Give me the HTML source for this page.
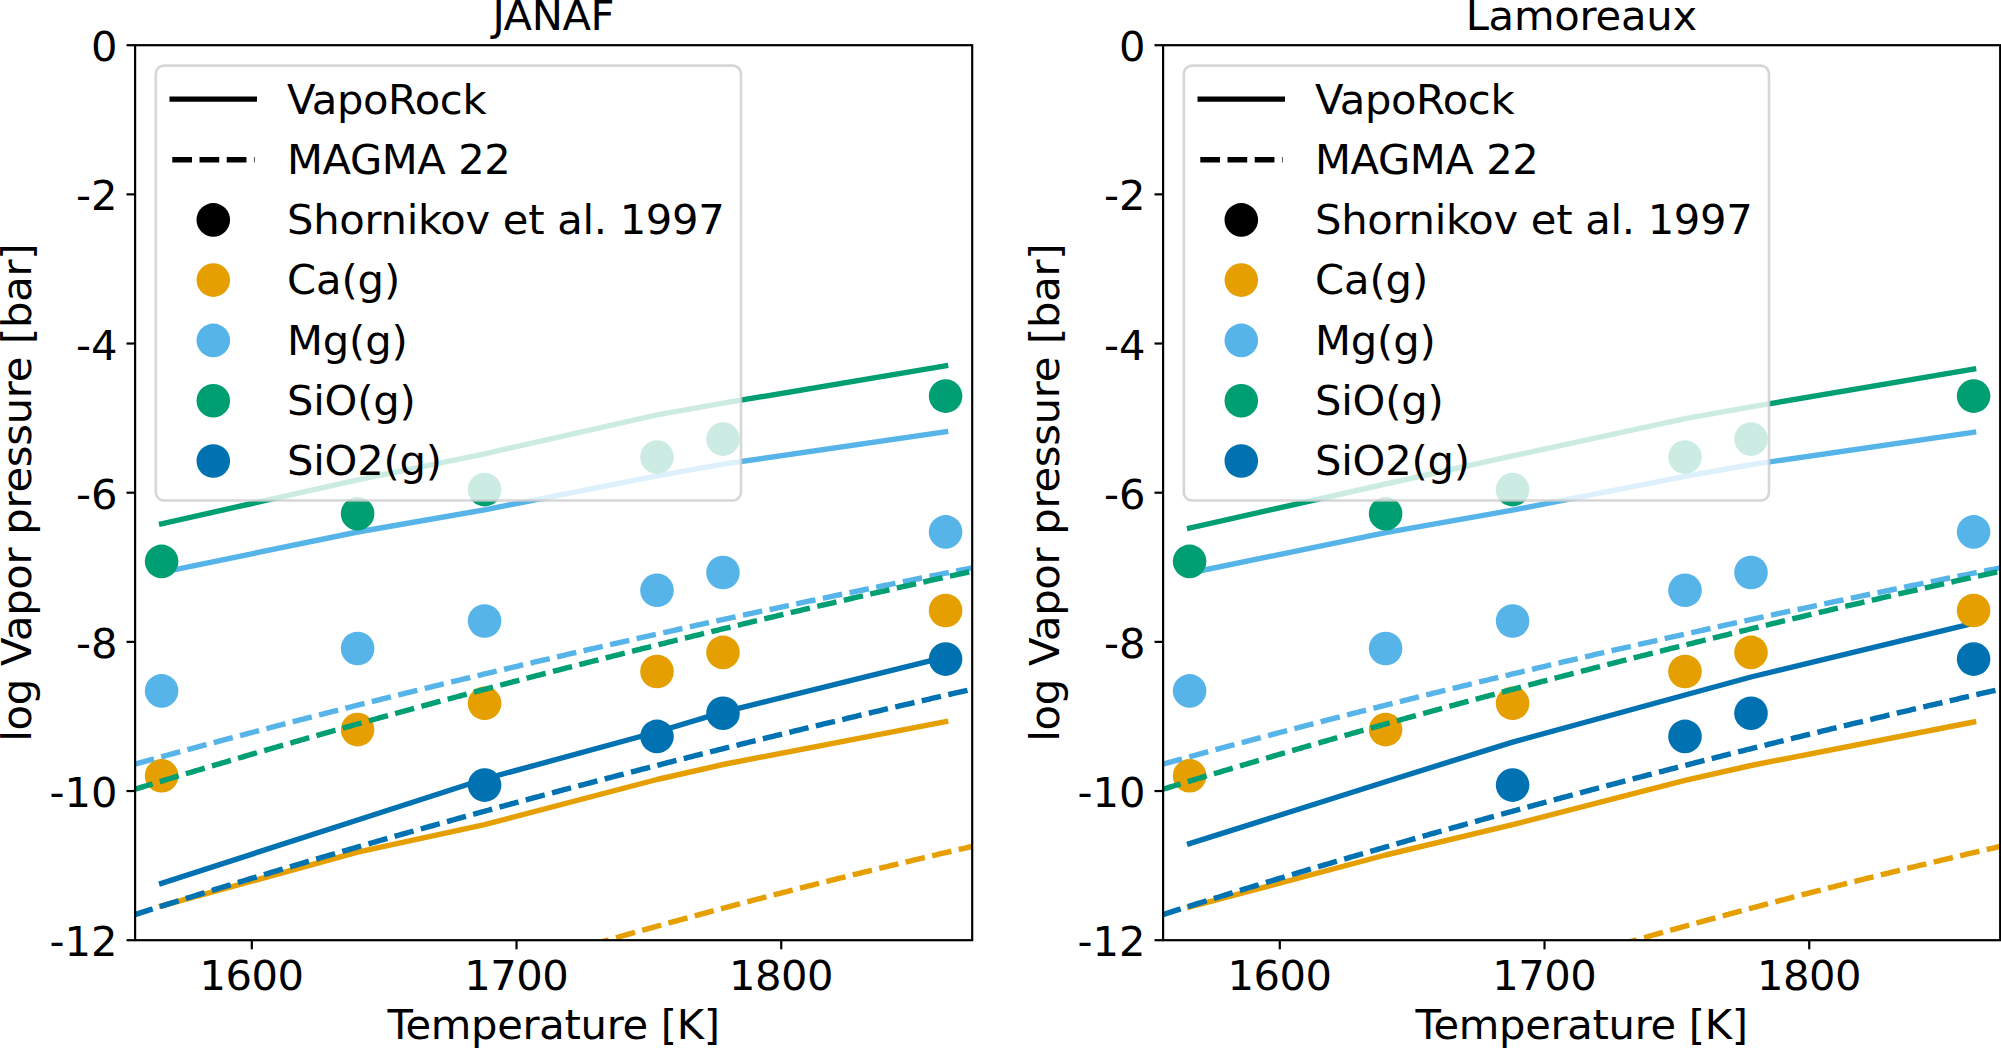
<!DOCTYPE html>
<html><head><meta charset="utf-8"><title>Vapor pressure</title>
<style>html,body{margin:0;padding:0;background:#fff}svg{display:block}text{font-family:"DejaVu Sans","Liberation Sans",sans-serif;font-size:41.67px;fill:#000}</style></head><body>
<svg width="2001" height="1048" viewBox="0 0 2001 1048">
<rect width="2001" height="1048" fill="#fff"/>
<defs>
<clipPath id="clip0"><rect x="135.1" y="45.2" width="837.1" height="895.0"/></clipPath>
<clipPath id="clip1"><rect x="1163.1" y="45.2" width="837.1" height="895.0"/></clipPath>
</defs>
<g clip-path="url(#clip0)">
<path d="M161.60,905.90 L357.60,852.20 L484.60,824.60 L657.00,779.50 L723.00,764.50 L945.60,721.70" fill="none" stroke="#E69F00" stroke-width="5.4" stroke-linecap="square" stroke-linejoin="round"/>
<path d="M161.60,572.40 L357.60,532.00 L484.60,509.80 L657.00,475.80 L723.00,464.20 L945.60,431.80" fill="none" stroke="#56B4E9" stroke-width="5.4" stroke-linecap="square" stroke-linejoin="round"/>
<path d="M161.60,523.80 L357.60,479.80 L484.60,453.80 L657.00,414.80 L723.00,403.20 L945.60,365.80" fill="none" stroke="#009E73" stroke-width="5.4" stroke-linecap="square" stroke-linejoin="round"/>
<path d="M161.60,883.30 L357.60,820.00 L484.60,779.00 L657.00,732.00 L723.00,712.20 L945.60,657.00" fill="none" stroke="#0072B2" stroke-width="5.4" stroke-linecap="square" stroke-linejoin="round"/>
<circle cx="161.60" cy="775.80" r="16.8" fill="#E69F00"/>
<circle cx="357.60" cy="729.60" r="16.8" fill="#E69F00"/>
<circle cx="484.60" cy="703.30" r="16.8" fill="#E69F00"/>
<circle cx="657.00" cy="671.50" r="16.8" fill="#E69F00"/>
<circle cx="723.00" cy="652.40" r="16.8" fill="#E69F00"/>
<circle cx="945.60" cy="610.50" r="16.8" fill="#E69F00"/>
<circle cx="161.60" cy="690.90" r="16.8" fill="#56B4E9"/>
<circle cx="357.60" cy="648.50" r="16.8" fill="#56B4E9"/>
<circle cx="484.60" cy="621.00" r="16.8" fill="#56B4E9"/>
<circle cx="657.00" cy="590.30" r="16.8" fill="#56B4E9"/>
<circle cx="723.00" cy="572.50" r="16.8" fill="#56B4E9"/>
<circle cx="945.60" cy="531.90" r="16.8" fill="#56B4E9"/>
<circle cx="161.60" cy="561.40" r="16.8" fill="#009E73"/>
<circle cx="357.60" cy="513.70" r="16.8" fill="#009E73"/>
<circle cx="484.60" cy="489.60" r="16.8" fill="#009E73"/>
<circle cx="657.00" cy="457.10" r="16.8" fill="#009E73"/>
<circle cx="723.00" cy="439.10" r="16.8" fill="#009E73"/>
<circle cx="945.60" cy="396.10" r="16.8" fill="#009E73"/>
<circle cx="484.60" cy="785.10" r="16.8" fill="#0072B2"/>
<circle cx="657.00" cy="736.40" r="16.8" fill="#0072B2"/>
<circle cx="723.00" cy="713.20" r="16.8" fill="#0072B2"/>
<circle cx="945.60" cy="659.10" r="16.8" fill="#0072B2"/>
<path d="M95.10,1113.21 L97.40,1112.29 L99.70,1111.38 L102.00,1110.47 L104.29,1109.56 L106.59,1108.65 L108.89,1107.74 L111.19,1106.84 L113.49,1105.93 L115.79,1105.03 L118.08,1104.13 L120.38,1103.23 L122.68,1102.33 L124.98,1101.43 L127.28,1100.53 L129.58,1099.64 L131.88,1098.75 L134.17,1097.85 L136.47,1096.96 L138.77,1096.07 L141.07,1095.19 L143.37,1094.30 L145.67,1093.42 L147.97,1092.53 L150.26,1091.65 L152.56,1090.77 L154.86,1089.89 L157.16,1089.01 L159.46,1088.14 L161.76,1087.26 L164.05,1086.39 L166.35,1085.51 L168.65,1084.64 L170.95,1083.77 L173.25,1082.90 L175.55,1082.04 L177.85,1081.17 L180.14,1080.31 L182.44,1079.44 L184.74,1078.58 L187.04,1077.72 L189.34,1076.86 L191.64,1076.00 L193.94,1075.15 L196.23,1074.29 L198.53,1073.44 L200.83,1072.59 L203.13,1071.74 L205.43,1070.89 L207.73,1070.04 L210.02,1069.19 L212.32,1068.34 L214.62,1067.50 L216.92,1066.66 L219.22,1065.81 L221.52,1064.97 L223.82,1064.13 L226.11,1063.30 L228.41,1062.46 L230.71,1061.62 L233.01,1060.79 L235.31,1059.96 L237.61,1059.12 L239.91,1058.29 L242.20,1057.46 L244.50,1056.64 L246.80,1055.81 L249.10,1054.98 L251.40,1054.16 L253.70,1053.34 L255.99,1052.52 L258.29,1051.69 L260.59,1050.88 L262.89,1050.06 L265.19,1049.24 L267.49,1048.43 L269.79,1047.61 L272.08,1046.80 L274.38,1045.99 L276.68,1045.18 L278.98,1044.37 L281.28,1043.56 L283.58,1042.75 L285.88,1041.95 L288.17,1041.14 L290.47,1040.34 L292.77,1039.54 L295.07,1038.74 L297.37,1037.94 L299.67,1037.14 L301.96,1036.34 L304.26,1035.54 L306.56,1034.75 L308.86,1033.96 L311.16,1033.16 L313.46,1032.37 L315.76,1031.58 L318.05,1030.79 L320.35,1030.01 L322.65,1029.22 L324.95,1028.43 L327.25,1027.65 L329.55,1026.87 L331.85,1026.08 L334.14,1025.30 L336.44,1024.52 L338.74,1023.75 L341.04,1022.97 L343.34,1022.19 L345.64,1021.42 L347.93,1020.64 L350.23,1019.87 L352.53,1019.10 L354.83,1018.33 L357.13,1017.56 L359.43,1016.79 L361.73,1016.03 L364.02,1015.26 L366.32,1014.50 L368.62,1013.73 L370.92,1012.97 L373.22,1012.21 L375.52,1011.45 L377.82,1010.69 L380.11,1009.93 L382.41,1009.18 L384.71,1008.42 L387.01,1007.67 L389.31,1006.91 L391.61,1006.16 L393.90,1005.41 L396.20,1004.66 L398.50,1003.91 L400.80,1003.16 L403.10,1002.42 L405.40,1001.67 L407.70,1000.93 L409.99,1000.18 L412.29,999.44 L414.59,998.70 L416.89,997.96 L419.19,997.22 L421.49,996.48 L423.78,995.74 L426.08,995.01 L428.38,994.27 L430.68,993.54 L432.98,992.81 L435.28,992.07 L437.58,991.34 L439.87,990.61 L442.17,989.89 L444.47,989.16 L446.77,988.43 L449.07,987.71 L451.37,986.98 L453.67,986.26 L455.96,985.54 L458.26,984.82 L460.56,984.10 L462.86,983.38 L465.16,982.66 L467.46,981.94 L469.75,981.23 L472.05,980.51 L474.35,979.80 L476.65,979.09 L478.95,978.37 L481.25,977.66 L483.55,976.95 L485.84,976.25 L488.14,975.54 L490.44,974.83 L492.74,974.13 L495.04,973.42 L497.34,972.72 L499.64,972.01 L501.93,971.31 L504.23,970.61 L506.53,969.91 L508.83,969.21 L511.13,968.52 L513.43,967.82 L515.72,967.12 L518.02,966.43 L520.32,965.74 L522.62,965.04 L524.92,964.35 L527.22,963.66 L529.52,962.97 L531.81,962.28 L534.11,961.60 L536.41,960.91 L538.71,960.22 L541.01,959.54 L543.31,958.85 L545.61,958.17 L547.90,957.49 L550.20,956.81 L552.50,956.13 L554.80,955.45 L557.10,954.77 L559.40,954.10 L561.69,953.42 L563.99,952.74 L566.29,952.07 L568.59,951.40 L570.89,950.72 L573.19,950.05 L575.49,949.38 L577.78,948.71 L580.08,948.04 L582.38,947.38 L584.68,946.71 L586.98,946.04 L589.28,945.38 L591.58,944.72 L593.87,944.05 L596.17,943.39 L598.47,942.73 L600.77,942.07 L603.07,941.41 L605.37,940.75 L607.66,940.10 L609.96,939.44 L612.26,938.78 L614.56,938.13 L616.86,937.48 L619.16,936.82 L621.46,936.17 L623.75,935.52 L626.05,934.87 L628.35,934.22 L630.65,933.57 L632.95,932.93 L635.25,932.28 L637.55,931.63 L639.84,930.99 L642.14,930.35 L644.44,929.70 L646.74,929.06 L649.04,928.42 L651.34,927.78 L653.63,927.14 L655.93,926.50 L658.23,925.86 L660.53,925.23 L662.83,924.59 L665.13,923.96 L667.43,923.32 L669.72,922.69 L672.02,922.06 L674.32,921.43 L676.62,920.80 L678.92,920.17 L681.22,919.54 L683.52,918.91 L685.81,918.28 L688.11,917.66 L690.41,917.03 L692.71,916.41 L695.01,915.78 L697.31,915.16 L699.60,914.54 L701.90,913.92 L704.20,913.30 L706.50,912.68 L708.80,912.06 L711.10,911.44 L713.40,910.82 L715.69,910.21 L717.99,909.59 L720.29,908.98 L722.59,908.37 L724.89,907.75 L727.19,907.14 L729.48,906.53 L731.78,905.92 L734.08,905.31 L736.38,904.70 L738.68,904.09 L740.98,903.49 L743.28,902.88 L745.57,902.28 L747.87,901.67 L750.17,901.07 L752.47,900.47 L754.77,899.86 L757.07,899.26 L759.37,898.66 L761.66,898.06 L763.96,897.46 L766.26,896.87 L768.56,896.27 L770.86,895.67 L773.16,895.08 L775.45,894.48 L777.75,893.89 L780.05,893.30 L782.35,892.70 L784.65,892.11 L786.95,891.52 L789.25,890.93 L791.54,890.34 L793.84,889.75 L796.14,889.17 L798.44,888.58 L800.74,887.99 L803.04,887.41 L805.34,886.82 L807.63,886.24 L809.93,885.66 L812.23,885.08 L814.53,884.50 L816.83,883.91 L819.13,883.33 L821.42,882.76 L823.72,882.18 L826.02,881.60 L828.32,881.02 L830.62,880.45 L832.92,879.87 L835.22,879.30 L837.51,878.72 L839.81,878.15 L842.11,877.58 L844.41,877.01 L846.71,876.44 L849.01,875.87 L851.31,875.30 L853.60,874.73 L855.90,874.16 L858.20,873.60 L860.50,873.03 L862.80,872.47 L865.10,871.90 L867.39,871.34 L869.69,870.77 L871.99,870.21 L874.29,869.65 L876.59,869.09 L878.89,868.53 L881.19,867.97 L883.48,867.41 L885.78,866.85 L888.08,866.30 L890.38,865.74 L892.68,865.18 L894.98,864.63 L897.28,864.08 L899.57,863.52 L901.87,862.97 L904.17,862.42 L906.47,861.87 L908.77,861.32 L911.07,860.77 L913.36,860.22 L915.66,859.67 L917.96,859.12 L920.26,858.57 L922.56,858.03 L924.86,857.48 L927.16,856.94 L929.45,856.39 L931.75,855.85 L934.05,855.31 L936.35,854.76 L938.65,854.22 L940.95,853.68 L943.25,853.14 L945.54,852.60 L947.84,852.06 L950.14,851.53 L952.44,850.99 L954.74,850.45 L957.04,849.92 L959.33,849.38 L961.63,848.85 L963.93,848.31 L966.23,847.78 L968.53,847.25 L970.83,846.72 L973.13,846.19 L975.42,845.66 L977.72,845.13 L980.02,844.60 L982.32,844.07 L984.62,843.54 L986.92,843.02 L989.22,842.49 L991.51,841.96 L993.81,841.44 L996.11,840.91 L998.41,840.39 L1000.71,839.87 L1003.01,839.35 L1005.30,838.82 L1007.60,838.30 L1009.90,837.78 L1012.20,837.26" fill="none" stroke="#E69F00" stroke-width="5.4" stroke-dasharray="19.7 7.52" stroke-dashoffset="21.70"/>
<path d="M95.10,775.31 L97.40,774.66 L99.70,774.01 L102.00,773.36 L104.29,772.72 L106.59,772.07 L108.89,771.42 L111.19,770.78 L113.49,770.13 L115.79,769.49 L118.08,768.84 L120.38,768.20 L122.68,767.56 L124.98,766.92 L127.28,766.28 L129.58,765.64 L131.88,765.00 L134.17,764.36 L136.47,763.72 L138.77,763.08 L141.07,762.44 L143.37,761.81 L145.67,761.17 L147.97,760.54 L150.26,759.90 L152.56,759.27 L154.86,758.63 L157.16,758.00 L159.46,757.37 L161.76,756.74 L164.05,756.11 L166.35,755.48 L168.65,754.85 L170.95,754.22 L173.25,753.59 L175.55,752.96 L177.85,752.34 L180.14,751.71 L182.44,751.08 L184.74,750.46 L187.04,749.83 L189.34,749.21 L191.64,748.59 L193.94,747.96 L196.23,747.34 L198.53,746.72 L200.83,746.10 L203.13,745.48 L205.43,744.86 L207.73,744.24 L210.02,743.62 L212.32,743.01 L214.62,742.39 L216.92,741.77 L219.22,741.16 L221.52,740.54 L223.82,739.93 L226.11,739.31 L228.41,738.70 L230.71,738.09 L233.01,737.48 L235.31,736.86 L237.61,736.25 L239.91,735.64 L242.20,735.03 L244.50,734.42 L246.80,733.82 L249.10,733.21 L251.40,732.60 L253.70,731.99 L255.99,731.39 L258.29,730.78 L260.59,730.18 L262.89,729.57 L265.19,728.97 L267.49,728.37 L269.79,727.76 L272.08,727.16 L274.38,726.56 L276.68,725.96 L278.98,725.36 L281.28,724.76 L283.58,724.16 L285.88,723.56 L288.17,722.97 L290.47,722.37 L292.77,721.77 L295.07,721.18 L297.37,720.58 L299.67,719.99 L301.96,719.39 L304.26,718.80 L306.56,718.21 L308.86,717.61 L311.16,717.02 L313.46,716.43 L315.76,715.84 L318.05,715.25 L320.35,714.66 L322.65,714.07 L324.95,713.48 L327.25,712.89 L329.55,712.31 L331.85,711.72 L334.14,711.13 L336.44,710.55 L338.74,709.96 L341.04,709.38 L343.34,708.80 L345.64,708.21 L347.93,707.63 L350.23,707.05 L352.53,706.47 L354.83,705.89 L357.13,705.30 L359.43,704.72 L361.73,704.15 L364.02,703.57 L366.32,702.99 L368.62,702.41 L370.92,701.83 L373.22,701.26 L375.52,700.68 L377.82,700.11 L380.11,699.53 L382.41,698.96 L384.71,698.38 L387.01,697.81 L389.31,697.24 L391.61,696.67 L393.90,696.09 L396.20,695.52 L398.50,694.95 L400.80,694.38 L403.10,693.81 L405.40,693.24 L407.70,692.68 L409.99,692.11 L412.29,691.54 L414.59,690.97 L416.89,690.41 L419.19,689.84 L421.49,689.28 L423.78,688.71 L426.08,688.15 L428.38,687.59 L430.68,687.02 L432.98,686.46 L435.28,685.90 L437.58,685.34 L439.87,684.78 L442.17,684.22 L444.47,683.66 L446.77,683.10 L449.07,682.54 L451.37,681.98 L453.67,681.42 L455.96,680.87 L458.26,680.31 L460.56,679.75 L462.86,679.20 L465.16,678.64 L467.46,678.09 L469.75,677.54 L472.05,676.98 L474.35,676.43 L476.65,675.88 L478.95,675.33 L481.25,674.78 L483.55,674.22 L485.84,673.67 L488.14,673.12 L490.44,672.58 L492.74,672.03 L495.04,671.48 L497.34,670.93 L499.64,670.38 L501.93,669.84 L504.23,669.29 L506.53,668.75 L508.83,668.20 L511.13,667.66 L513.43,667.11 L515.72,666.57 L518.02,666.03 L520.32,665.48 L522.62,664.94 L524.92,664.40 L527.22,663.86 L529.52,663.32 L531.81,662.78 L534.11,662.24 L536.41,661.70 L538.71,661.16 L541.01,660.63 L543.31,660.09 L545.61,659.55 L547.90,659.01 L550.20,658.48 L552.50,657.94 L554.80,657.41 L557.10,656.87 L559.40,656.34 L561.69,655.81 L563.99,655.27 L566.29,654.74 L568.59,654.21 L570.89,653.68 L573.19,653.15 L575.49,652.62 L577.78,652.09 L580.08,651.56 L582.38,651.03 L584.68,650.50 L586.98,649.97 L589.28,649.44 L591.58,648.92 L593.87,648.39 L596.17,647.87 L598.47,647.34 L600.77,646.81 L603.07,646.29 L605.37,645.77 L607.66,645.24 L609.96,644.72 L612.26,644.20 L614.56,643.67 L616.86,643.15 L619.16,642.63 L621.46,642.11 L623.75,641.59 L626.05,641.07 L628.35,640.55 L630.65,640.03 L632.95,639.51 L635.25,639.00 L637.55,638.48 L639.84,637.96 L642.14,637.45 L644.44,636.93 L646.74,636.41 L649.04,635.90 L651.34,635.39 L653.63,634.87 L655.93,634.36 L658.23,633.84 L660.53,633.33 L662.83,632.82 L665.13,632.31 L667.43,631.80 L669.72,631.29 L672.02,630.78 L674.32,630.27 L676.62,629.76 L678.92,629.25 L681.22,628.74 L683.52,628.23 L685.81,627.72 L688.11,627.22 L690.41,626.71 L692.71,626.20 L695.01,625.70 L697.31,625.19 L699.60,624.69 L701.90,624.18 L704.20,623.68 L706.50,623.18 L708.80,622.67 L711.10,622.17 L713.40,621.67 L715.69,621.17 L717.99,620.67 L720.29,620.17 L722.59,619.66 L724.89,619.17 L727.19,618.67 L729.48,618.17 L731.78,617.67 L734.08,617.17 L736.38,616.67 L738.68,616.18 L740.98,615.68 L743.28,615.18 L745.57,614.69 L747.87,614.19 L750.17,613.70 L752.47,613.20 L754.77,612.71 L757.07,612.22 L759.37,611.72 L761.66,611.23 L763.96,610.74 L766.26,610.25 L768.56,609.75 L770.86,609.26 L773.16,608.77 L775.45,608.28 L777.75,607.79 L780.05,607.30 L782.35,606.82 L784.65,606.33 L786.95,605.84 L789.25,605.35 L791.54,604.86 L793.84,604.38 L796.14,603.89 L798.44,603.41 L800.74,602.92 L803.04,602.44 L805.34,601.95 L807.63,601.47 L809.93,600.98 L812.23,600.50 L814.53,600.02 L816.83,599.54 L819.13,599.05 L821.42,598.57 L823.72,598.09 L826.02,597.61 L828.32,597.13 L830.62,596.65 L832.92,596.17 L835.22,595.69 L837.51,595.22 L839.81,594.74 L842.11,594.26 L844.41,593.78 L846.71,593.31 L849.01,592.83 L851.31,592.35 L853.60,591.88 L855.90,591.40 L858.20,590.93 L860.50,590.45 L862.80,589.98 L865.10,589.51 L867.39,589.03 L869.69,588.56 L871.99,588.09 L874.29,587.62 L876.59,587.15 L878.89,586.68 L881.19,586.20 L883.48,585.73 L885.78,585.27 L888.08,584.80 L890.38,584.33 L892.68,583.86 L894.98,583.39 L897.28,582.92 L899.57,582.46 L901.87,581.99 L904.17,581.52 L906.47,581.06 L908.77,580.59 L911.07,580.13 L913.36,579.66 L915.66,579.20 L917.96,578.73 L920.26,578.27 L922.56,577.81 L924.86,577.34 L927.16,576.88 L929.45,576.42 L931.75,575.96 L934.05,575.50 L936.35,575.04 L938.65,574.57 L940.95,574.12 L943.25,573.66 L945.54,573.20 L947.84,572.74 L950.14,572.28 L952.44,571.82 L954.74,571.36 L957.04,570.91 L959.33,570.45 L961.63,569.99 L963.93,569.54 L966.23,569.08 L968.53,568.63 L970.83,568.17 L973.13,567.72 L975.42,567.26 L977.72,566.81 L980.02,566.36 L982.32,565.90 L984.62,565.45 L986.92,565.00 L989.22,564.55 L991.51,564.10 L993.81,563.64 L996.11,563.19 L998.41,562.74 L1000.71,562.29 L1003.01,561.84 L1005.30,561.40 L1007.60,560.95 L1009.90,560.50 L1012.20,560.05" fill="none" stroke="#56B4E9" stroke-width="5.4" stroke-dasharray="19.7 7.52" stroke-dashoffset="13.04"/>
<path d="M95.10,801.59 L97.40,800.87 L99.70,800.15 L102.00,799.44 L104.29,798.72 L106.59,798.01 L108.89,797.29 L111.19,796.58 L113.49,795.87 L115.79,795.15 L118.08,794.44 L120.38,793.73 L122.68,793.02 L124.98,792.31 L127.28,791.61 L129.58,790.90 L131.88,790.19 L134.17,789.48 L136.47,788.78 L138.77,788.07 L141.07,787.37 L143.37,786.67 L145.67,785.96 L147.97,785.26 L150.26,784.56 L152.56,783.86 L154.86,783.16 L157.16,782.46 L159.46,781.76 L161.76,781.06 L164.05,780.37 L166.35,779.67 L168.65,778.97 L170.95,778.28 L173.25,777.58 L175.55,776.89 L177.85,776.20 L180.14,775.50 L182.44,774.81 L184.74,774.12 L187.04,773.43 L189.34,772.74 L191.64,772.05 L193.94,771.36 L196.23,770.67 L198.53,769.99 L200.83,769.30 L203.13,768.61 L205.43,767.93 L207.73,767.24 L210.02,766.56 L212.32,765.88 L214.62,765.19 L216.92,764.51 L219.22,763.83 L221.52,763.15 L223.82,762.47 L226.11,761.79 L228.41,761.11 L230.71,760.43 L233.01,759.76 L235.31,759.08 L237.61,758.40 L239.91,757.73 L242.20,757.05 L244.50,756.38 L246.80,755.71 L249.10,755.03 L251.40,754.36 L253.70,753.69 L255.99,753.02 L258.29,752.35 L260.59,751.68 L262.89,751.01 L265.19,750.34 L267.49,749.67 L269.79,749.01 L272.08,748.34 L274.38,747.67 L276.68,747.01 L278.98,746.34 L281.28,745.68 L283.58,745.02 L285.88,744.35 L288.17,743.69 L290.47,743.03 L292.77,742.37 L295.07,741.71 L297.37,741.05 L299.67,740.39 L301.96,739.73 L304.26,739.07 L306.56,738.42 L308.86,737.76 L311.16,737.11 L313.46,736.45 L315.76,735.80 L318.05,735.14 L320.35,734.49 L322.65,733.84 L324.95,733.18 L327.25,732.53 L329.55,731.88 L331.85,731.23 L334.14,730.58 L336.44,729.93 L338.74,729.28 L341.04,728.64 L343.34,727.99 L345.64,727.34 L347.93,726.70 L350.23,726.05 L352.53,725.41 L354.83,724.76 L357.13,724.12 L359.43,723.48 L361.73,722.83 L364.02,722.19 L366.32,721.55 L368.62,720.91 L370.92,720.27 L373.22,719.63 L375.52,718.99 L377.82,718.35 L380.11,717.72 L382.41,717.08 L384.71,716.44 L387.01,715.81 L389.31,715.17 L391.61,714.54 L393.90,713.90 L396.20,713.27 L398.50,712.64 L400.80,712.00 L403.10,711.37 L405.40,710.74 L407.70,710.11 L409.99,709.48 L412.29,708.85 L414.59,708.22 L416.89,707.60 L419.19,706.97 L421.49,706.34 L423.78,705.71 L426.08,705.09 L428.38,704.46 L430.68,703.84 L432.98,703.21 L435.28,702.59 L437.58,701.97 L439.87,701.35 L442.17,700.72 L444.47,700.10 L446.77,699.48 L449.07,698.86 L451.37,698.24 L453.67,697.62 L455.96,697.01 L458.26,696.39 L460.56,695.77 L462.86,695.15 L465.16,694.54 L467.46,693.92 L469.75,693.31 L472.05,692.69 L474.35,692.08 L476.65,691.47 L478.95,690.85 L481.25,690.24 L483.55,689.63 L485.84,689.02 L488.14,688.41 L490.44,687.80 L492.74,687.19 L495.04,686.58 L497.34,685.97 L499.64,685.36 L501.93,684.76 L504.23,684.15 L506.53,683.54 L508.83,682.94 L511.13,682.33 L513.43,681.73 L515.72,681.13 L518.02,680.52 L520.32,679.92 L522.62,679.32 L524.92,678.72 L527.22,678.11 L529.52,677.51 L531.81,676.91 L534.11,676.31 L536.41,675.72 L538.71,675.12 L541.01,674.52 L543.31,673.92 L545.61,673.33 L547.90,672.73 L550.20,672.13 L552.50,671.54 L554.80,670.94 L557.10,670.35 L559.40,669.76 L561.69,669.16 L563.99,668.57 L566.29,667.98 L568.59,667.39 L570.89,666.80 L573.19,666.21 L575.49,665.62 L577.78,665.03 L580.08,664.44 L582.38,663.85 L584.68,663.26 L586.98,662.68 L589.28,662.09 L591.58,661.50 L593.87,660.92 L596.17,660.33 L598.47,659.75 L600.77,659.16 L603.07,658.58 L605.37,658.00 L607.66,657.41 L609.96,656.83 L612.26,656.25 L614.56,655.67 L616.86,655.09 L619.16,654.51 L621.46,653.93 L623.75,653.35 L626.05,652.77 L628.35,652.20 L630.65,651.62 L632.95,651.04 L635.25,650.47 L637.55,649.89 L639.84,649.31 L642.14,648.74 L644.44,648.17 L646.74,647.59 L649.04,647.02 L651.34,646.45 L653.63,645.87 L655.93,645.30 L658.23,644.73 L660.53,644.16 L662.83,643.59 L665.13,643.02 L667.43,642.45 L669.72,641.88 L672.02,641.31 L674.32,640.75 L676.62,640.18 L678.92,639.61 L681.22,639.05 L683.52,638.48 L685.81,637.92 L688.11,637.35 L690.41,636.79 L692.71,636.22 L695.01,635.66 L697.31,635.10 L699.60,634.54 L701.90,633.97 L704.20,633.41 L706.50,632.85 L708.80,632.29 L711.10,631.73 L713.40,631.17 L715.69,630.62 L717.99,630.06 L720.29,629.50 L722.59,628.94 L724.89,628.39 L727.19,627.83 L729.48,627.27 L731.78,626.72 L734.08,626.16 L736.38,625.61 L738.68,625.06 L740.98,624.50 L743.28,623.95 L745.57,623.40 L747.87,622.84 L750.17,622.29 L752.47,621.74 L754.77,621.19 L757.07,620.64 L759.37,620.09 L761.66,619.54 L763.96,618.99 L766.26,618.45 L768.56,617.90 L770.86,617.35 L773.16,616.81 L775.45,616.26 L777.75,615.71 L780.05,615.17 L782.35,614.62 L784.65,614.08 L786.95,613.54 L789.25,612.99 L791.54,612.45 L793.84,611.91 L796.14,611.36 L798.44,610.82 L800.74,610.28 L803.04,609.74 L805.34,609.20 L807.63,608.66 L809.93,608.12 L812.23,607.58 L814.53,607.05 L816.83,606.51 L819.13,605.97 L821.42,605.43 L823.72,604.90 L826.02,604.36 L828.32,603.83 L830.62,603.29 L832.92,602.76 L835.22,602.22 L837.51,601.69 L839.81,601.16 L842.11,600.62 L844.41,600.09 L846.71,599.56 L849.01,599.03 L851.31,598.50 L853.60,597.97 L855.90,597.44 L858.20,596.91 L860.50,596.38 L862.80,595.85 L865.10,595.32 L867.39,594.79 L869.69,594.27 L871.99,593.74 L874.29,593.21 L876.59,592.69 L878.89,592.16 L881.19,591.64 L883.48,591.11 L885.78,590.59 L888.08,590.06 L890.38,589.54 L892.68,589.02 L894.98,588.50 L897.28,587.97 L899.57,587.45 L901.87,586.93 L904.17,586.41 L906.47,585.89 L908.77,585.37 L911.07,584.85 L913.36,584.33 L915.66,583.81 L917.96,583.30 L920.26,582.78 L922.56,582.26 L924.86,581.75 L927.16,581.23 L929.45,580.71 L931.75,580.20 L934.05,579.68 L936.35,579.17 L938.65,578.65 L940.95,578.14 L943.25,577.63 L945.54,577.12 L947.84,576.60 L950.14,576.09 L952.44,575.58 L954.74,575.07 L957.04,574.56 L959.33,574.05 L961.63,573.54 L963.93,573.03 L966.23,572.52 L968.53,572.01 L970.83,571.50 L973.13,571.00 L975.42,570.49 L977.72,569.98 L980.02,569.48 L982.32,568.97 L984.62,568.46 L986.92,567.96 L989.22,567.45 L991.51,566.95 L993.81,566.45 L996.11,565.94 L998.41,565.44 L1000.71,564.94 L1003.01,564.44 L1005.30,563.93 L1007.60,563.43 L1009.90,562.93 L1012.20,562.43" fill="none" stroke="#009E73" stroke-width="5.4" stroke-dasharray="19.7 7.52" stroke-dashoffset="13.94"/>
<path d="M95.10,927.33 L97.40,926.58 L99.70,925.84 L102.00,925.10 L104.29,924.36 L106.59,923.62 L108.89,922.88 L111.19,922.14 L113.49,921.40 L115.79,920.67 L118.08,919.93 L120.38,919.19 L122.68,918.46 L124.98,917.72 L127.28,916.99 L129.58,916.26 L131.88,915.53 L134.17,914.79 L136.47,914.06 L138.77,913.33 L141.07,912.60 L143.37,911.88 L145.67,911.15 L147.97,910.42 L150.26,909.70 L152.56,908.97 L154.86,908.24 L157.16,907.52 L159.46,906.80 L161.76,906.07 L164.05,905.35 L166.35,904.63 L168.65,903.91 L170.95,903.19 L173.25,902.47 L175.55,901.75 L177.85,901.04 L180.14,900.32 L182.44,899.60 L184.74,898.89 L187.04,898.17 L189.34,897.46 L191.64,896.74 L193.94,896.03 L196.23,895.32 L198.53,894.61 L200.83,893.90 L203.13,893.19 L205.43,892.48 L207.73,891.77 L210.02,891.06 L212.32,890.35 L214.62,889.65 L216.92,888.94 L219.22,888.24 L221.52,887.53 L223.82,886.83 L226.11,886.12 L228.41,885.42 L230.71,884.72 L233.01,884.02 L235.31,883.32 L237.61,882.62 L239.91,881.92 L242.20,881.22 L244.50,880.52 L246.80,879.83 L249.10,879.13 L251.40,878.44 L253.70,877.74 L255.99,877.05 L258.29,876.35 L260.59,875.66 L262.89,874.97 L265.19,874.28 L267.49,873.58 L269.79,872.89 L272.08,872.20 L274.38,871.52 L276.68,870.83 L278.98,870.14 L281.28,869.45 L283.58,868.77 L285.88,868.08 L288.17,867.40 L290.47,866.71 L292.77,866.03 L295.07,865.34 L297.37,864.66 L299.67,863.98 L301.96,863.30 L304.26,862.62 L306.56,861.94 L308.86,861.26 L311.16,860.58 L313.46,859.90 L315.76,859.23 L318.05,858.55 L320.35,857.87 L322.65,857.20 L324.95,856.52 L327.25,855.85 L329.55,855.18 L331.85,854.51 L334.14,853.83 L336.44,853.16 L338.74,852.49 L341.04,851.82 L343.34,851.15 L345.64,850.48 L347.93,849.81 L350.23,849.15 L352.53,848.48 L354.83,847.81 L357.13,847.15 L359.43,846.48 L361.73,845.82 L364.02,845.16 L366.32,844.49 L368.62,843.83 L370.92,843.17 L373.22,842.51 L375.52,841.85 L377.82,841.19 L380.11,840.53 L382.41,839.87 L384.71,839.21 L387.01,838.55 L389.31,837.90 L391.61,837.24 L393.90,836.58 L396.20,835.93 L398.50,835.27 L400.80,834.62 L403.10,833.97 L405.40,833.31 L407.70,832.66 L409.99,832.01 L412.29,831.36 L414.59,830.71 L416.89,830.06 L419.19,829.41 L421.49,828.76 L423.78,828.12 L426.08,827.47 L428.38,826.82 L430.68,826.18 L432.98,825.53 L435.28,824.89 L437.58,824.24 L439.87,823.60 L442.17,822.96 L444.47,822.31 L446.77,821.67 L449.07,821.03 L451.37,820.39 L453.67,819.75 L455.96,819.11 L458.26,818.47 L460.56,817.84 L462.86,817.20 L465.16,816.56 L467.46,815.93 L469.75,815.29 L472.05,814.65 L474.35,814.02 L476.65,813.39 L478.95,812.75 L481.25,812.12 L483.55,811.49 L485.84,810.86 L488.14,810.23 L490.44,809.59 L492.74,808.96 L495.04,808.34 L497.34,807.71 L499.64,807.08 L501.93,806.45 L504.23,805.82 L506.53,805.20 L508.83,804.57 L511.13,803.95 L513.43,803.32 L515.72,802.70 L518.02,802.07 L520.32,801.45 L522.62,800.83 L524.92,800.21 L527.22,799.59 L529.52,798.97 L531.81,798.35 L534.11,797.73 L536.41,797.11 L538.71,796.49 L541.01,795.87 L543.31,795.25 L545.61,794.64 L547.90,794.02 L550.20,793.41 L552.50,792.79 L554.80,792.18 L557.10,791.56 L559.40,790.95 L561.69,790.34 L563.99,789.72 L566.29,789.11 L568.59,788.50 L570.89,787.89 L573.19,787.28 L575.49,786.67 L577.78,786.06 L580.08,785.46 L582.38,784.85 L584.68,784.24 L586.98,783.63 L589.28,783.03 L591.58,782.42 L593.87,781.82 L596.17,781.21 L598.47,780.61 L600.77,780.01 L603.07,779.40 L605.37,778.80 L607.66,778.20 L609.96,777.60 L612.26,777.00 L614.56,776.40 L616.86,775.80 L619.16,775.20 L621.46,774.60 L623.75,774.00 L626.05,773.40 L628.35,772.81 L630.65,772.21 L632.95,771.62 L635.25,771.02 L637.55,770.43 L639.84,769.83 L642.14,769.24 L644.44,768.65 L646.74,768.05 L649.04,767.46 L651.34,766.87 L653.63,766.28 L655.93,765.69 L658.23,765.10 L660.53,764.51 L662.83,763.92 L665.13,763.33 L667.43,762.74 L669.72,762.16 L672.02,761.57 L674.32,760.98 L676.62,760.40 L678.92,759.81 L681.22,759.23 L683.52,758.64 L685.81,758.06 L688.11,757.48 L690.41,756.89 L692.71,756.31 L695.01,755.73 L697.31,755.15 L699.60,754.57 L701.90,753.99 L704.20,753.41 L706.50,752.83 L708.80,752.25 L711.10,751.67 L713.40,751.10 L715.69,750.52 L717.99,749.94 L720.29,749.37 L722.59,748.79 L724.89,748.22 L727.19,747.64 L729.48,747.07 L731.78,746.50 L734.08,745.92 L736.38,745.35 L738.68,744.78 L740.98,744.21 L743.28,743.64 L745.57,743.07 L747.87,742.50 L750.17,741.93 L752.47,741.36 L754.77,740.79 L757.07,740.22 L759.37,739.66 L761.66,739.09 L763.96,738.52 L766.26,737.96 L768.56,737.39 L770.86,736.83 L773.16,736.26 L775.45,735.70 L777.75,735.13 L780.05,734.57 L782.35,734.01 L784.65,733.45 L786.95,732.89 L789.25,732.33 L791.54,731.76 L793.84,731.20 L796.14,730.65 L798.44,730.09 L800.74,729.53 L803.04,728.97 L805.34,728.41 L807.63,727.86 L809.93,727.30 L812.23,726.74 L814.53,726.19 L816.83,725.63 L819.13,725.08 L821.42,724.52 L823.72,723.97 L826.02,723.42 L828.32,722.86 L830.62,722.31 L832.92,721.76 L835.22,721.21 L837.51,720.66 L839.81,720.11 L842.11,719.56 L844.41,719.01 L846.71,718.46 L849.01,717.91 L851.31,717.36 L853.60,716.82 L855.90,716.27 L858.20,715.72 L860.50,715.18 L862.80,714.63 L865.10,714.09 L867.39,713.54 L869.69,713.00 L871.99,712.45 L874.29,711.91 L876.59,711.37 L878.89,710.83 L881.19,710.28 L883.48,709.74 L885.78,709.20 L888.08,708.66 L890.38,708.12 L892.68,707.58 L894.98,707.04 L897.28,706.51 L899.57,705.97 L901.87,705.43 L904.17,704.89 L906.47,704.36 L908.77,703.82 L911.07,703.28 L913.36,702.75 L915.66,702.21 L917.96,701.68 L920.26,701.15 L922.56,700.61 L924.86,700.08 L927.16,699.55 L929.45,699.01 L931.75,698.48 L934.05,697.95 L936.35,697.42 L938.65,696.89 L940.95,696.36 L943.25,695.83 L945.54,695.30 L947.84,694.77 L950.14,694.25 L952.44,693.72 L954.74,693.19 L957.04,692.66 L959.33,692.14 L961.63,691.61 L963.93,691.09 L966.23,690.56 L968.53,690.04 L970.83,689.51 L973.13,688.99 L975.42,688.47 L977.72,687.94 L980.02,687.42 L982.32,686.90 L984.62,686.38 L986.92,685.86 L989.22,685.34 L991.51,684.82 L993.81,684.30 L996.11,683.78 L998.41,683.26 L1000.71,682.74 L1003.01,682.22 L1005.30,681.70 L1007.60,681.19 L1009.90,680.67 L1012.20,680.15" fill="none" stroke="#0072B2" stroke-width="5.4" stroke-dasharray="19.7 7.52" stroke-dashoffset="13.65"/>
</g>
<line x1="251.80" y1="940.2" x2="251.80" y2="949.30" stroke="#000" stroke-width="2.2"/>
<text x="251.60" y="989.60" text-anchor="middle" letter-spacing="-0.5">1600</text>
<line x1="516.52" y1="940.2" x2="516.52" y2="949.30" stroke="#000" stroke-width="2.2"/>
<text x="516.32" y="989.60" text-anchor="middle" letter-spacing="-0.5">1700</text>
<line x1="781.24" y1="940.2" x2="781.24" y2="949.30" stroke="#000" stroke-width="2.2"/>
<text x="781.04" y="989.60" text-anchor="middle" letter-spacing="-0.5">1800</text>
<line x1="126.50" y1="45.20" x2="135.1" y2="45.20" stroke="#000" stroke-width="2.2"/>
<text x="117.50" y="61.30" text-anchor="end">0</text>
<line x1="126.50" y1="194.37" x2="135.1" y2="194.37" stroke="#000" stroke-width="2.2"/>
<text x="117.50" y="210.47" text-anchor="end">-2</text>
<line x1="126.50" y1="343.53" x2="135.1" y2="343.53" stroke="#000" stroke-width="2.2"/>
<text x="117.50" y="359.63" text-anchor="end">-4</text>
<line x1="126.50" y1="492.70" x2="135.1" y2="492.70" stroke="#000" stroke-width="2.2"/>
<text x="117.50" y="508.80" text-anchor="end">-6</text>
<line x1="126.50" y1="641.87" x2="135.1" y2="641.87" stroke="#000" stroke-width="2.2"/>
<text x="117.50" y="657.97" text-anchor="end">-8</text>
<line x1="126.50" y1="791.03" x2="135.1" y2="791.03" stroke="#000" stroke-width="2.2"/>
<text x="117.50" y="807.13" text-anchor="end">-10</text>
<line x1="126.50" y1="940.20" x2="135.1" y2="940.20" stroke="#000" stroke-width="2.2"/>
<text x="117.50" y="956.30" text-anchor="end">-12</text>
<rect x="135.1" y="45.2" width="837.1" height="895.0" fill="none" stroke="#000" stroke-width="2.2"/>
<text x="553.25" y="29.80" text-anchor="middle" letter-spacing="-0.4">JANAF</text>
<text x="553.55" y="1039.10" text-anchor="middle" letter-spacing="-0.31">Temperature [K]</text>
<text transform="translate(31.20,492.70) rotate(-90)" text-anchor="middle" letter-spacing="-0.27">log Vapor pressure [bar]</text>
<rect x="155.80" y="65.6" width="585.20" height="434.90" rx="8.3" fill="#fff" fill-opacity="0.8" stroke="#ccc" stroke-opacity="0.8" stroke-width="2.6"/>
<line x1="172.20" y1="99.1" x2="254.30" y2="99.1" stroke="#000" stroke-width="5.4" stroke-linecap="square"/>
<line x1="172.30" y1="159.7" x2="254.60" y2="159.7" stroke="#000" stroke-width="5.4" stroke-dasharray="19.7 7.52"/>
<circle cx="213.30" cy="219.9" r="16.8" fill="#000"/>
<circle cx="213.30" cy="280.1" r="16.8" fill="#E69F00"/>
<circle cx="213.30" cy="340.4" r="16.8" fill="#56B4E9"/>
<circle cx="213.30" cy="400.7" r="16.8" fill="#009E73"/>
<circle cx="213.30" cy="461.0" r="16.8" fill="#0072B2"/>
<text x="287.00" y="113.90" letter-spacing="-0.4">VapoRock</text>
<text x="287.00" y="173.80" letter-spacing="-0.41">MAGMA 22</text>
<text x="287.00" y="234.20" letter-spacing="-0.285">Shornikov et al. 1997</text>
<text x="287.00" y="294.40" letter-spacing="-0.08">Ca(g)</text>
<text x="287.00" y="354.80" letter-spacing="-0.15">Mg(g)</text>
<text x="287.00" y="414.80" letter-spacing="-0.2">SiO(g)</text>
<text x="287.00" y="474.90" letter-spacing="-0.22">SiO2(g)</text>
<g clip-path="url(#clip1)">
<path d="M1189.60,907.00 L1385.60,855.00 L1512.60,824.60 L1685.00,780.40 L1751.00,765.50 L1973.60,722.00" fill="none" stroke="#E69F00" stroke-width="5.4" stroke-linecap="square" stroke-linejoin="round"/>
<path d="M1189.60,573.00 L1385.60,532.60 L1512.60,510.20 L1685.00,476.30 L1751.00,464.60 L1973.60,432.20" fill="none" stroke="#56B4E9" stroke-width="5.4" stroke-linecap="square" stroke-linejoin="round"/>
<path d="M1189.60,528.10 L1385.60,484.00 L1512.60,455.90 L1685.00,418.70 L1751.00,406.80 L1973.60,369.10" fill="none" stroke="#009E73" stroke-width="5.4" stroke-linecap="square" stroke-linejoin="round"/>
<path d="M1189.60,843.60 L1385.60,781.70 L1512.60,742.10 L1685.00,695.00 L1751.00,677.00 L1973.60,623.20" fill="none" stroke="#0072B2" stroke-width="5.4" stroke-linecap="square" stroke-linejoin="round"/>
<circle cx="1189.60" cy="775.80" r="16.8" fill="#E69F00"/>
<circle cx="1385.60" cy="729.60" r="16.8" fill="#E69F00"/>
<circle cx="1512.60" cy="703.30" r="16.8" fill="#E69F00"/>
<circle cx="1685.00" cy="671.50" r="16.8" fill="#E69F00"/>
<circle cx="1751.00" cy="652.40" r="16.8" fill="#E69F00"/>
<circle cx="1973.60" cy="610.50" r="16.8" fill="#E69F00"/>
<circle cx="1189.60" cy="690.90" r="16.8" fill="#56B4E9"/>
<circle cx="1385.60" cy="648.50" r="16.8" fill="#56B4E9"/>
<circle cx="1512.60" cy="621.00" r="16.8" fill="#56B4E9"/>
<circle cx="1685.00" cy="590.30" r="16.8" fill="#56B4E9"/>
<circle cx="1751.00" cy="572.50" r="16.8" fill="#56B4E9"/>
<circle cx="1973.60" cy="531.90" r="16.8" fill="#56B4E9"/>
<circle cx="1189.60" cy="561.40" r="16.8" fill="#009E73"/>
<circle cx="1385.60" cy="513.70" r="16.8" fill="#009E73"/>
<circle cx="1512.60" cy="489.60" r="16.8" fill="#009E73"/>
<circle cx="1685.00" cy="457.10" r="16.8" fill="#009E73"/>
<circle cx="1751.00" cy="439.10" r="16.8" fill="#009E73"/>
<circle cx="1973.60" cy="396.10" r="16.8" fill="#009E73"/>
<circle cx="1512.60" cy="785.10" r="16.8" fill="#0072B2"/>
<circle cx="1685.00" cy="736.40" r="16.8" fill="#0072B2"/>
<circle cx="1751.00" cy="713.20" r="16.8" fill="#0072B2"/>
<circle cx="1973.60" cy="659.10" r="16.8" fill="#0072B2"/>
<path d="M1123.10,1113.21 L1125.40,1112.29 L1127.70,1111.38 L1130.00,1110.47 L1132.29,1109.56 L1134.59,1108.65 L1136.89,1107.74 L1139.19,1106.84 L1141.49,1105.93 L1143.79,1105.03 L1146.08,1104.13 L1148.38,1103.23 L1150.68,1102.33 L1152.98,1101.43 L1155.28,1100.53 L1157.58,1099.64 L1159.88,1098.75 L1162.17,1097.85 L1164.47,1096.96 L1166.77,1096.07 L1169.07,1095.19 L1171.37,1094.30 L1173.67,1093.42 L1175.97,1092.53 L1178.26,1091.65 L1180.56,1090.77 L1182.86,1089.89 L1185.16,1089.01 L1187.46,1088.14 L1189.76,1087.26 L1192.05,1086.39 L1194.35,1085.51 L1196.65,1084.64 L1198.95,1083.77 L1201.25,1082.90 L1203.55,1082.04 L1205.85,1081.17 L1208.14,1080.31 L1210.44,1079.44 L1212.74,1078.58 L1215.04,1077.72 L1217.34,1076.86 L1219.64,1076.00 L1221.94,1075.15 L1224.23,1074.29 L1226.53,1073.44 L1228.83,1072.59 L1231.13,1071.74 L1233.43,1070.89 L1235.73,1070.04 L1238.02,1069.19 L1240.32,1068.34 L1242.62,1067.50 L1244.92,1066.66 L1247.22,1065.81 L1249.52,1064.97 L1251.82,1064.13 L1254.11,1063.30 L1256.41,1062.46 L1258.71,1061.62 L1261.01,1060.79 L1263.31,1059.96 L1265.61,1059.12 L1267.91,1058.29 L1270.20,1057.46 L1272.50,1056.64 L1274.80,1055.81 L1277.10,1054.98 L1279.40,1054.16 L1281.70,1053.34 L1283.99,1052.52 L1286.29,1051.69 L1288.59,1050.88 L1290.89,1050.06 L1293.19,1049.24 L1295.49,1048.43 L1297.79,1047.61 L1300.08,1046.80 L1302.38,1045.99 L1304.68,1045.18 L1306.98,1044.37 L1309.28,1043.56 L1311.58,1042.75 L1313.88,1041.95 L1316.17,1041.14 L1318.47,1040.34 L1320.77,1039.54 L1323.07,1038.74 L1325.37,1037.94 L1327.67,1037.14 L1329.96,1036.34 L1332.26,1035.54 L1334.56,1034.75 L1336.86,1033.96 L1339.16,1033.16 L1341.46,1032.37 L1343.76,1031.58 L1346.05,1030.79 L1348.35,1030.01 L1350.65,1029.22 L1352.95,1028.43 L1355.25,1027.65 L1357.55,1026.87 L1359.85,1026.08 L1362.14,1025.30 L1364.44,1024.52 L1366.74,1023.75 L1369.04,1022.97 L1371.34,1022.19 L1373.64,1021.42 L1375.93,1020.64 L1378.23,1019.87 L1380.53,1019.10 L1382.83,1018.33 L1385.13,1017.56 L1387.43,1016.79 L1389.73,1016.03 L1392.02,1015.26 L1394.32,1014.50 L1396.62,1013.73 L1398.92,1012.97 L1401.22,1012.21 L1403.52,1011.45 L1405.82,1010.69 L1408.11,1009.93 L1410.41,1009.18 L1412.71,1008.42 L1415.01,1007.67 L1417.31,1006.91 L1419.61,1006.16 L1421.90,1005.41 L1424.20,1004.66 L1426.50,1003.91 L1428.80,1003.16 L1431.10,1002.42 L1433.40,1001.67 L1435.70,1000.93 L1437.99,1000.18 L1440.29,999.44 L1442.59,998.70 L1444.89,997.96 L1447.19,997.22 L1449.49,996.48 L1451.78,995.74 L1454.08,995.01 L1456.38,994.27 L1458.68,993.54 L1460.98,992.81 L1463.28,992.07 L1465.58,991.34 L1467.87,990.61 L1470.17,989.89 L1472.47,989.16 L1474.77,988.43 L1477.07,987.71 L1479.37,986.98 L1481.67,986.26 L1483.96,985.54 L1486.26,984.82 L1488.56,984.10 L1490.86,983.38 L1493.16,982.66 L1495.46,981.94 L1497.75,981.23 L1500.05,980.51 L1502.35,979.80 L1504.65,979.09 L1506.95,978.37 L1509.25,977.66 L1511.55,976.95 L1513.84,976.25 L1516.14,975.54 L1518.44,974.83 L1520.74,974.13 L1523.04,973.42 L1525.34,972.72 L1527.64,972.01 L1529.93,971.31 L1532.23,970.61 L1534.53,969.91 L1536.83,969.21 L1539.13,968.52 L1541.43,967.82 L1543.72,967.12 L1546.02,966.43 L1548.32,965.74 L1550.62,965.04 L1552.92,964.35 L1555.22,963.66 L1557.52,962.97 L1559.81,962.28 L1562.11,961.60 L1564.41,960.91 L1566.71,960.22 L1569.01,959.54 L1571.31,958.85 L1573.61,958.17 L1575.90,957.49 L1578.20,956.81 L1580.50,956.13 L1582.80,955.45 L1585.10,954.77 L1587.40,954.10 L1589.69,953.42 L1591.99,952.74 L1594.29,952.07 L1596.59,951.40 L1598.89,950.72 L1601.19,950.05 L1603.49,949.38 L1605.78,948.71 L1608.08,948.04 L1610.38,947.38 L1612.68,946.71 L1614.98,946.04 L1617.28,945.38 L1619.58,944.72 L1621.87,944.05 L1624.17,943.39 L1626.47,942.73 L1628.77,942.07 L1631.07,941.41 L1633.37,940.75 L1635.66,940.10 L1637.96,939.44 L1640.26,938.78 L1642.56,938.13 L1644.86,937.48 L1647.16,936.82 L1649.46,936.17 L1651.75,935.52 L1654.05,934.87 L1656.35,934.22 L1658.65,933.57 L1660.95,932.93 L1663.25,932.28 L1665.55,931.63 L1667.84,930.99 L1670.14,930.35 L1672.44,929.70 L1674.74,929.06 L1677.04,928.42 L1679.34,927.78 L1681.63,927.14 L1683.93,926.50 L1686.23,925.86 L1688.53,925.23 L1690.83,924.59 L1693.13,923.96 L1695.43,923.32 L1697.72,922.69 L1700.02,922.06 L1702.32,921.43 L1704.62,920.80 L1706.92,920.17 L1709.22,919.54 L1711.52,918.91 L1713.81,918.28 L1716.11,917.66 L1718.41,917.03 L1720.71,916.41 L1723.01,915.78 L1725.31,915.16 L1727.60,914.54 L1729.90,913.92 L1732.20,913.30 L1734.50,912.68 L1736.80,912.06 L1739.10,911.44 L1741.40,910.82 L1743.69,910.21 L1745.99,909.59 L1748.29,908.98 L1750.59,908.37 L1752.89,907.75 L1755.19,907.14 L1757.48,906.53 L1759.78,905.92 L1762.08,905.31 L1764.38,904.70 L1766.68,904.09 L1768.98,903.49 L1771.28,902.88 L1773.57,902.28 L1775.87,901.67 L1778.17,901.07 L1780.47,900.47 L1782.77,899.86 L1785.07,899.26 L1787.37,898.66 L1789.66,898.06 L1791.96,897.46 L1794.26,896.87 L1796.56,896.27 L1798.86,895.67 L1801.16,895.08 L1803.45,894.48 L1805.75,893.89 L1808.05,893.30 L1810.35,892.70 L1812.65,892.11 L1814.95,891.52 L1817.25,890.93 L1819.54,890.34 L1821.84,889.75 L1824.14,889.17 L1826.44,888.58 L1828.74,887.99 L1831.04,887.41 L1833.34,886.82 L1835.63,886.24 L1837.93,885.66 L1840.23,885.08 L1842.53,884.50 L1844.83,883.91 L1847.13,883.33 L1849.42,882.76 L1851.72,882.18 L1854.02,881.60 L1856.32,881.02 L1858.62,880.45 L1860.92,879.87 L1863.22,879.30 L1865.51,878.72 L1867.81,878.15 L1870.11,877.58 L1872.41,877.01 L1874.71,876.44 L1877.01,875.87 L1879.31,875.30 L1881.60,874.73 L1883.90,874.16 L1886.20,873.60 L1888.50,873.03 L1890.80,872.47 L1893.10,871.90 L1895.39,871.34 L1897.69,870.77 L1899.99,870.21 L1902.29,869.65 L1904.59,869.09 L1906.89,868.53 L1909.19,867.97 L1911.48,867.41 L1913.78,866.85 L1916.08,866.30 L1918.38,865.74 L1920.68,865.18 L1922.98,864.63 L1925.28,864.08 L1927.57,863.52 L1929.87,862.97 L1932.17,862.42 L1934.47,861.87 L1936.77,861.32 L1939.07,860.77 L1941.36,860.22 L1943.66,859.67 L1945.96,859.12 L1948.26,858.57 L1950.56,858.03 L1952.86,857.48 L1955.16,856.94 L1957.45,856.39 L1959.75,855.85 L1962.05,855.31 L1964.35,854.76 L1966.65,854.22 L1968.95,853.68 L1971.25,853.14 L1973.54,852.60 L1975.84,852.06 L1978.14,851.53 L1980.44,850.99 L1982.74,850.45 L1985.04,849.92 L1987.33,849.38 L1989.63,848.85 L1991.93,848.31 L1994.23,847.78 L1996.53,847.25 L1998.83,846.72 L2001.13,846.19 L2003.42,845.66 L2005.72,845.13 L2008.02,844.60 L2010.32,844.07 L2012.62,843.54 L2014.92,843.02 L2017.22,842.49 L2019.51,841.96 L2021.81,841.44 L2024.11,840.91 L2026.41,840.39 L2028.71,839.87 L2031.01,839.35 L2033.30,838.82 L2035.60,838.30 L2037.90,837.78 L2040.20,837.26" fill="none" stroke="#E69F00" stroke-width="5.4" stroke-dasharray="19.7 7.52" stroke-dashoffset="21.70"/>
<path d="M1123.10,775.31 L1125.40,774.66 L1127.70,774.01 L1130.00,773.36 L1132.29,772.72 L1134.59,772.07 L1136.89,771.42 L1139.19,770.78 L1141.49,770.13 L1143.79,769.49 L1146.08,768.84 L1148.38,768.20 L1150.68,767.56 L1152.98,766.92 L1155.28,766.28 L1157.58,765.64 L1159.88,765.00 L1162.17,764.36 L1164.47,763.72 L1166.77,763.08 L1169.07,762.44 L1171.37,761.81 L1173.67,761.17 L1175.97,760.54 L1178.26,759.90 L1180.56,759.27 L1182.86,758.63 L1185.16,758.00 L1187.46,757.37 L1189.76,756.74 L1192.05,756.11 L1194.35,755.48 L1196.65,754.85 L1198.95,754.22 L1201.25,753.59 L1203.55,752.96 L1205.85,752.34 L1208.14,751.71 L1210.44,751.08 L1212.74,750.46 L1215.04,749.83 L1217.34,749.21 L1219.64,748.59 L1221.94,747.96 L1224.23,747.34 L1226.53,746.72 L1228.83,746.10 L1231.13,745.48 L1233.43,744.86 L1235.73,744.24 L1238.02,743.62 L1240.32,743.01 L1242.62,742.39 L1244.92,741.77 L1247.22,741.16 L1249.52,740.54 L1251.82,739.93 L1254.11,739.31 L1256.41,738.70 L1258.71,738.09 L1261.01,737.48 L1263.31,736.86 L1265.61,736.25 L1267.91,735.64 L1270.20,735.03 L1272.50,734.42 L1274.80,733.82 L1277.10,733.21 L1279.40,732.60 L1281.70,731.99 L1283.99,731.39 L1286.29,730.78 L1288.59,730.18 L1290.89,729.57 L1293.19,728.97 L1295.49,728.37 L1297.79,727.76 L1300.08,727.16 L1302.38,726.56 L1304.68,725.96 L1306.98,725.36 L1309.28,724.76 L1311.58,724.16 L1313.88,723.56 L1316.17,722.97 L1318.47,722.37 L1320.77,721.77 L1323.07,721.18 L1325.37,720.58 L1327.67,719.99 L1329.96,719.39 L1332.26,718.80 L1334.56,718.21 L1336.86,717.61 L1339.16,717.02 L1341.46,716.43 L1343.76,715.84 L1346.05,715.25 L1348.35,714.66 L1350.65,714.07 L1352.95,713.48 L1355.25,712.89 L1357.55,712.31 L1359.85,711.72 L1362.14,711.13 L1364.44,710.55 L1366.74,709.96 L1369.04,709.38 L1371.34,708.80 L1373.64,708.21 L1375.93,707.63 L1378.23,707.05 L1380.53,706.47 L1382.83,705.89 L1385.13,705.30 L1387.43,704.72 L1389.73,704.15 L1392.02,703.57 L1394.32,702.99 L1396.62,702.41 L1398.92,701.83 L1401.22,701.26 L1403.52,700.68 L1405.82,700.11 L1408.11,699.53 L1410.41,698.96 L1412.71,698.38 L1415.01,697.81 L1417.31,697.24 L1419.61,696.67 L1421.90,696.09 L1424.20,695.52 L1426.50,694.95 L1428.80,694.38 L1431.10,693.81 L1433.40,693.24 L1435.70,692.68 L1437.99,692.11 L1440.29,691.54 L1442.59,690.97 L1444.89,690.41 L1447.19,689.84 L1449.49,689.28 L1451.78,688.71 L1454.08,688.15 L1456.38,687.59 L1458.68,687.02 L1460.98,686.46 L1463.28,685.90 L1465.58,685.34 L1467.87,684.78 L1470.17,684.22 L1472.47,683.66 L1474.77,683.10 L1477.07,682.54 L1479.37,681.98 L1481.67,681.42 L1483.96,680.87 L1486.26,680.31 L1488.56,679.75 L1490.86,679.20 L1493.16,678.64 L1495.46,678.09 L1497.75,677.54 L1500.05,676.98 L1502.35,676.43 L1504.65,675.88 L1506.95,675.33 L1509.25,674.78 L1511.55,674.22 L1513.84,673.67 L1516.14,673.12 L1518.44,672.58 L1520.74,672.03 L1523.04,671.48 L1525.34,670.93 L1527.64,670.38 L1529.93,669.84 L1532.23,669.29 L1534.53,668.75 L1536.83,668.20 L1539.13,667.66 L1541.43,667.11 L1543.72,666.57 L1546.02,666.03 L1548.32,665.48 L1550.62,664.94 L1552.92,664.40 L1555.22,663.86 L1557.52,663.32 L1559.81,662.78 L1562.11,662.24 L1564.41,661.70 L1566.71,661.16 L1569.01,660.63 L1571.31,660.09 L1573.61,659.55 L1575.90,659.01 L1578.20,658.48 L1580.50,657.94 L1582.80,657.41 L1585.10,656.87 L1587.40,656.34 L1589.69,655.81 L1591.99,655.27 L1594.29,654.74 L1596.59,654.21 L1598.89,653.68 L1601.19,653.15 L1603.49,652.62 L1605.78,652.09 L1608.08,651.56 L1610.38,651.03 L1612.68,650.50 L1614.98,649.97 L1617.28,649.44 L1619.58,648.92 L1621.87,648.39 L1624.17,647.87 L1626.47,647.34 L1628.77,646.81 L1631.07,646.29 L1633.37,645.77 L1635.66,645.24 L1637.96,644.72 L1640.26,644.20 L1642.56,643.67 L1644.86,643.15 L1647.16,642.63 L1649.46,642.11 L1651.75,641.59 L1654.05,641.07 L1656.35,640.55 L1658.65,640.03 L1660.95,639.51 L1663.25,639.00 L1665.55,638.48 L1667.84,637.96 L1670.14,637.45 L1672.44,636.93 L1674.74,636.41 L1677.04,635.90 L1679.34,635.39 L1681.63,634.87 L1683.93,634.36 L1686.23,633.84 L1688.53,633.33 L1690.83,632.82 L1693.13,632.31 L1695.43,631.80 L1697.72,631.29 L1700.02,630.78 L1702.32,630.27 L1704.62,629.76 L1706.92,629.25 L1709.22,628.74 L1711.52,628.23 L1713.81,627.72 L1716.11,627.22 L1718.41,626.71 L1720.71,626.20 L1723.01,625.70 L1725.31,625.19 L1727.60,624.69 L1729.90,624.18 L1732.20,623.68 L1734.50,623.18 L1736.80,622.67 L1739.10,622.17 L1741.40,621.67 L1743.69,621.17 L1745.99,620.67 L1748.29,620.17 L1750.59,619.66 L1752.89,619.17 L1755.19,618.67 L1757.48,618.17 L1759.78,617.67 L1762.08,617.17 L1764.38,616.67 L1766.68,616.18 L1768.98,615.68 L1771.28,615.18 L1773.57,614.69 L1775.87,614.19 L1778.17,613.70 L1780.47,613.20 L1782.77,612.71 L1785.07,612.22 L1787.37,611.72 L1789.66,611.23 L1791.96,610.74 L1794.26,610.25 L1796.56,609.75 L1798.86,609.26 L1801.16,608.77 L1803.45,608.28 L1805.75,607.79 L1808.05,607.30 L1810.35,606.82 L1812.65,606.33 L1814.95,605.84 L1817.25,605.35 L1819.54,604.86 L1821.84,604.38 L1824.14,603.89 L1826.44,603.41 L1828.74,602.92 L1831.04,602.44 L1833.34,601.95 L1835.63,601.47 L1837.93,600.98 L1840.23,600.50 L1842.53,600.02 L1844.83,599.54 L1847.13,599.05 L1849.42,598.57 L1851.72,598.09 L1854.02,597.61 L1856.32,597.13 L1858.62,596.65 L1860.92,596.17 L1863.22,595.69 L1865.51,595.22 L1867.81,594.74 L1870.11,594.26 L1872.41,593.78 L1874.71,593.31 L1877.01,592.83 L1879.31,592.35 L1881.60,591.88 L1883.90,591.40 L1886.20,590.93 L1888.50,590.45 L1890.80,589.98 L1893.10,589.51 L1895.39,589.03 L1897.69,588.56 L1899.99,588.09 L1902.29,587.62 L1904.59,587.15 L1906.89,586.68 L1909.19,586.20 L1911.48,585.73 L1913.78,585.27 L1916.08,584.80 L1918.38,584.33 L1920.68,583.86 L1922.98,583.39 L1925.28,582.92 L1927.57,582.46 L1929.87,581.99 L1932.17,581.52 L1934.47,581.06 L1936.77,580.59 L1939.07,580.13 L1941.36,579.66 L1943.66,579.20 L1945.96,578.73 L1948.26,578.27 L1950.56,577.81 L1952.86,577.34 L1955.16,576.88 L1957.45,576.42 L1959.75,575.96 L1962.05,575.50 L1964.35,575.04 L1966.65,574.57 L1968.95,574.12 L1971.25,573.66 L1973.54,573.20 L1975.84,572.74 L1978.14,572.28 L1980.44,571.82 L1982.74,571.36 L1985.04,570.91 L1987.33,570.45 L1989.63,569.99 L1991.93,569.54 L1994.23,569.08 L1996.53,568.63 L1998.83,568.17 L2001.13,567.72 L2003.42,567.26 L2005.72,566.81 L2008.02,566.36 L2010.32,565.90 L2012.62,565.45 L2014.92,565.00 L2017.22,564.55 L2019.51,564.10 L2021.81,563.64 L2024.11,563.19 L2026.41,562.74 L2028.71,562.29 L2031.01,561.84 L2033.30,561.40 L2035.60,560.95 L2037.90,560.50 L2040.20,560.05" fill="none" stroke="#56B4E9" stroke-width="5.4" stroke-dasharray="19.7 7.52" stroke-dashoffset="13.04"/>
<path d="M1123.10,801.59 L1125.40,800.87 L1127.70,800.15 L1130.00,799.44 L1132.29,798.72 L1134.59,798.01 L1136.89,797.29 L1139.19,796.58 L1141.49,795.87 L1143.79,795.15 L1146.08,794.44 L1148.38,793.73 L1150.68,793.02 L1152.98,792.31 L1155.28,791.61 L1157.58,790.90 L1159.88,790.19 L1162.17,789.48 L1164.47,788.78 L1166.77,788.07 L1169.07,787.37 L1171.37,786.67 L1173.67,785.96 L1175.97,785.26 L1178.26,784.56 L1180.56,783.86 L1182.86,783.16 L1185.16,782.46 L1187.46,781.76 L1189.76,781.06 L1192.05,780.37 L1194.35,779.67 L1196.65,778.97 L1198.95,778.28 L1201.25,777.58 L1203.55,776.89 L1205.85,776.20 L1208.14,775.50 L1210.44,774.81 L1212.74,774.12 L1215.04,773.43 L1217.34,772.74 L1219.64,772.05 L1221.94,771.36 L1224.23,770.67 L1226.53,769.99 L1228.83,769.30 L1231.13,768.61 L1233.43,767.93 L1235.73,767.24 L1238.02,766.56 L1240.32,765.88 L1242.62,765.19 L1244.92,764.51 L1247.22,763.83 L1249.52,763.15 L1251.82,762.47 L1254.11,761.79 L1256.41,761.11 L1258.71,760.43 L1261.01,759.76 L1263.31,759.08 L1265.61,758.40 L1267.91,757.73 L1270.20,757.05 L1272.50,756.38 L1274.80,755.71 L1277.10,755.03 L1279.40,754.36 L1281.70,753.69 L1283.99,753.02 L1286.29,752.35 L1288.59,751.68 L1290.89,751.01 L1293.19,750.34 L1295.49,749.67 L1297.79,749.01 L1300.08,748.34 L1302.38,747.67 L1304.68,747.01 L1306.98,746.34 L1309.28,745.68 L1311.58,745.02 L1313.88,744.35 L1316.17,743.69 L1318.47,743.03 L1320.77,742.37 L1323.07,741.71 L1325.37,741.05 L1327.67,740.39 L1329.96,739.73 L1332.26,739.07 L1334.56,738.42 L1336.86,737.76 L1339.16,737.11 L1341.46,736.45 L1343.76,735.80 L1346.05,735.14 L1348.35,734.49 L1350.65,733.84 L1352.95,733.18 L1355.25,732.53 L1357.55,731.88 L1359.85,731.23 L1362.14,730.58 L1364.44,729.93 L1366.74,729.28 L1369.04,728.64 L1371.34,727.99 L1373.64,727.34 L1375.93,726.70 L1378.23,726.05 L1380.53,725.41 L1382.83,724.76 L1385.13,724.12 L1387.43,723.48 L1389.73,722.83 L1392.02,722.19 L1394.32,721.55 L1396.62,720.91 L1398.92,720.27 L1401.22,719.63 L1403.52,718.99 L1405.82,718.35 L1408.11,717.72 L1410.41,717.08 L1412.71,716.44 L1415.01,715.81 L1417.31,715.17 L1419.61,714.54 L1421.90,713.90 L1424.20,713.27 L1426.50,712.64 L1428.80,712.00 L1431.10,711.37 L1433.40,710.74 L1435.70,710.11 L1437.99,709.48 L1440.29,708.85 L1442.59,708.22 L1444.89,707.60 L1447.19,706.97 L1449.49,706.34 L1451.78,705.71 L1454.08,705.09 L1456.38,704.46 L1458.68,703.84 L1460.98,703.21 L1463.28,702.59 L1465.58,701.97 L1467.87,701.35 L1470.17,700.72 L1472.47,700.10 L1474.77,699.48 L1477.07,698.86 L1479.37,698.24 L1481.67,697.62 L1483.96,697.01 L1486.26,696.39 L1488.56,695.77 L1490.86,695.15 L1493.16,694.54 L1495.46,693.92 L1497.75,693.31 L1500.05,692.69 L1502.35,692.08 L1504.65,691.47 L1506.95,690.85 L1509.25,690.24 L1511.55,689.63 L1513.84,689.02 L1516.14,688.41 L1518.44,687.80 L1520.74,687.19 L1523.04,686.58 L1525.34,685.97 L1527.64,685.36 L1529.93,684.76 L1532.23,684.15 L1534.53,683.54 L1536.83,682.94 L1539.13,682.33 L1541.43,681.73 L1543.72,681.13 L1546.02,680.52 L1548.32,679.92 L1550.62,679.32 L1552.92,678.72 L1555.22,678.11 L1557.52,677.51 L1559.81,676.91 L1562.11,676.31 L1564.41,675.72 L1566.71,675.12 L1569.01,674.52 L1571.31,673.92 L1573.61,673.33 L1575.90,672.73 L1578.20,672.13 L1580.50,671.54 L1582.80,670.94 L1585.10,670.35 L1587.40,669.76 L1589.69,669.16 L1591.99,668.57 L1594.29,667.98 L1596.59,667.39 L1598.89,666.80 L1601.19,666.21 L1603.49,665.62 L1605.78,665.03 L1608.08,664.44 L1610.38,663.85 L1612.68,663.26 L1614.98,662.68 L1617.28,662.09 L1619.58,661.50 L1621.87,660.92 L1624.17,660.33 L1626.47,659.75 L1628.77,659.16 L1631.07,658.58 L1633.37,658.00 L1635.66,657.41 L1637.96,656.83 L1640.26,656.25 L1642.56,655.67 L1644.86,655.09 L1647.16,654.51 L1649.46,653.93 L1651.75,653.35 L1654.05,652.77 L1656.35,652.20 L1658.65,651.62 L1660.95,651.04 L1663.25,650.47 L1665.55,649.89 L1667.84,649.31 L1670.14,648.74 L1672.44,648.17 L1674.74,647.59 L1677.04,647.02 L1679.34,646.45 L1681.63,645.87 L1683.93,645.30 L1686.23,644.73 L1688.53,644.16 L1690.83,643.59 L1693.13,643.02 L1695.43,642.45 L1697.72,641.88 L1700.02,641.31 L1702.32,640.75 L1704.62,640.18 L1706.92,639.61 L1709.22,639.05 L1711.52,638.48 L1713.81,637.92 L1716.11,637.35 L1718.41,636.79 L1720.71,636.22 L1723.01,635.66 L1725.31,635.10 L1727.60,634.54 L1729.90,633.97 L1732.20,633.41 L1734.50,632.85 L1736.80,632.29 L1739.10,631.73 L1741.40,631.17 L1743.69,630.62 L1745.99,630.06 L1748.29,629.50 L1750.59,628.94 L1752.89,628.39 L1755.19,627.83 L1757.48,627.27 L1759.78,626.72 L1762.08,626.16 L1764.38,625.61 L1766.68,625.06 L1768.98,624.50 L1771.28,623.95 L1773.57,623.40 L1775.87,622.84 L1778.17,622.29 L1780.47,621.74 L1782.77,621.19 L1785.07,620.64 L1787.37,620.09 L1789.66,619.54 L1791.96,618.99 L1794.26,618.45 L1796.56,617.90 L1798.86,617.35 L1801.16,616.81 L1803.45,616.26 L1805.75,615.71 L1808.05,615.17 L1810.35,614.62 L1812.65,614.08 L1814.95,613.54 L1817.25,612.99 L1819.54,612.45 L1821.84,611.91 L1824.14,611.36 L1826.44,610.82 L1828.74,610.28 L1831.04,609.74 L1833.34,609.20 L1835.63,608.66 L1837.93,608.12 L1840.23,607.58 L1842.53,607.05 L1844.83,606.51 L1847.13,605.97 L1849.42,605.43 L1851.72,604.90 L1854.02,604.36 L1856.32,603.83 L1858.62,603.29 L1860.92,602.76 L1863.22,602.22 L1865.51,601.69 L1867.81,601.16 L1870.11,600.62 L1872.41,600.09 L1874.71,599.56 L1877.01,599.03 L1879.31,598.50 L1881.60,597.97 L1883.90,597.44 L1886.20,596.91 L1888.50,596.38 L1890.80,595.85 L1893.10,595.32 L1895.39,594.79 L1897.69,594.27 L1899.99,593.74 L1902.29,593.21 L1904.59,592.69 L1906.89,592.16 L1909.19,591.64 L1911.48,591.11 L1913.78,590.59 L1916.08,590.06 L1918.38,589.54 L1920.68,589.02 L1922.98,588.50 L1925.28,587.97 L1927.57,587.45 L1929.87,586.93 L1932.17,586.41 L1934.47,585.89 L1936.77,585.37 L1939.07,584.85 L1941.36,584.33 L1943.66,583.81 L1945.96,583.30 L1948.26,582.78 L1950.56,582.26 L1952.86,581.75 L1955.16,581.23 L1957.45,580.71 L1959.75,580.20 L1962.05,579.68 L1964.35,579.17 L1966.65,578.65 L1968.95,578.14 L1971.25,577.63 L1973.54,577.12 L1975.84,576.60 L1978.14,576.09 L1980.44,575.58 L1982.74,575.07 L1985.04,574.56 L1987.33,574.05 L1989.63,573.54 L1991.93,573.03 L1994.23,572.52 L1996.53,572.01 L1998.83,571.50 L2001.13,571.00 L2003.42,570.49 L2005.72,569.98 L2008.02,569.48 L2010.32,568.97 L2012.62,568.46 L2014.92,567.96 L2017.22,567.45 L2019.51,566.95 L2021.81,566.45 L2024.11,565.94 L2026.41,565.44 L2028.71,564.94 L2031.01,564.44 L2033.30,563.93 L2035.60,563.43 L2037.90,562.93 L2040.20,562.43" fill="none" stroke="#009E73" stroke-width="5.4" stroke-dasharray="19.7 7.52" stroke-dashoffset="13.94"/>
<path d="M1123.10,927.33 L1125.40,926.58 L1127.70,925.84 L1130.00,925.10 L1132.29,924.36 L1134.59,923.62 L1136.89,922.88 L1139.19,922.14 L1141.49,921.40 L1143.79,920.67 L1146.08,919.93 L1148.38,919.19 L1150.68,918.46 L1152.98,917.72 L1155.28,916.99 L1157.58,916.26 L1159.88,915.53 L1162.17,914.79 L1164.47,914.06 L1166.77,913.33 L1169.07,912.60 L1171.37,911.88 L1173.67,911.15 L1175.97,910.42 L1178.26,909.70 L1180.56,908.97 L1182.86,908.24 L1185.16,907.52 L1187.46,906.80 L1189.76,906.07 L1192.05,905.35 L1194.35,904.63 L1196.65,903.91 L1198.95,903.19 L1201.25,902.47 L1203.55,901.75 L1205.85,901.04 L1208.14,900.32 L1210.44,899.60 L1212.74,898.89 L1215.04,898.17 L1217.34,897.46 L1219.64,896.74 L1221.94,896.03 L1224.23,895.32 L1226.53,894.61 L1228.83,893.90 L1231.13,893.19 L1233.43,892.48 L1235.73,891.77 L1238.02,891.06 L1240.32,890.35 L1242.62,889.65 L1244.92,888.94 L1247.22,888.24 L1249.52,887.53 L1251.82,886.83 L1254.11,886.12 L1256.41,885.42 L1258.71,884.72 L1261.01,884.02 L1263.31,883.32 L1265.61,882.62 L1267.91,881.92 L1270.20,881.22 L1272.50,880.52 L1274.80,879.83 L1277.10,879.13 L1279.40,878.44 L1281.70,877.74 L1283.99,877.05 L1286.29,876.35 L1288.59,875.66 L1290.89,874.97 L1293.19,874.28 L1295.49,873.58 L1297.79,872.89 L1300.08,872.20 L1302.38,871.52 L1304.68,870.83 L1306.98,870.14 L1309.28,869.45 L1311.58,868.77 L1313.88,868.08 L1316.17,867.40 L1318.47,866.71 L1320.77,866.03 L1323.07,865.34 L1325.37,864.66 L1327.67,863.98 L1329.96,863.30 L1332.26,862.62 L1334.56,861.94 L1336.86,861.26 L1339.16,860.58 L1341.46,859.90 L1343.76,859.23 L1346.05,858.55 L1348.35,857.87 L1350.65,857.20 L1352.95,856.52 L1355.25,855.85 L1357.55,855.18 L1359.85,854.51 L1362.14,853.83 L1364.44,853.16 L1366.74,852.49 L1369.04,851.82 L1371.34,851.15 L1373.64,850.48 L1375.93,849.81 L1378.23,849.15 L1380.53,848.48 L1382.83,847.81 L1385.13,847.15 L1387.43,846.48 L1389.73,845.82 L1392.02,845.16 L1394.32,844.49 L1396.62,843.83 L1398.92,843.17 L1401.22,842.51 L1403.52,841.85 L1405.82,841.19 L1408.11,840.53 L1410.41,839.87 L1412.71,839.21 L1415.01,838.55 L1417.31,837.90 L1419.61,837.24 L1421.90,836.58 L1424.20,835.93 L1426.50,835.27 L1428.80,834.62 L1431.10,833.97 L1433.40,833.31 L1435.70,832.66 L1437.99,832.01 L1440.29,831.36 L1442.59,830.71 L1444.89,830.06 L1447.19,829.41 L1449.49,828.76 L1451.78,828.12 L1454.08,827.47 L1456.38,826.82 L1458.68,826.18 L1460.98,825.53 L1463.28,824.89 L1465.58,824.24 L1467.87,823.60 L1470.17,822.96 L1472.47,822.31 L1474.77,821.67 L1477.07,821.03 L1479.37,820.39 L1481.67,819.75 L1483.96,819.11 L1486.26,818.47 L1488.56,817.84 L1490.86,817.20 L1493.16,816.56 L1495.46,815.93 L1497.75,815.29 L1500.05,814.65 L1502.35,814.02 L1504.65,813.39 L1506.95,812.75 L1509.25,812.12 L1511.55,811.49 L1513.84,810.86 L1516.14,810.23 L1518.44,809.59 L1520.74,808.96 L1523.04,808.34 L1525.34,807.71 L1527.64,807.08 L1529.93,806.45 L1532.23,805.82 L1534.53,805.20 L1536.83,804.57 L1539.13,803.95 L1541.43,803.32 L1543.72,802.70 L1546.02,802.07 L1548.32,801.45 L1550.62,800.83 L1552.92,800.21 L1555.22,799.59 L1557.52,798.97 L1559.81,798.35 L1562.11,797.73 L1564.41,797.11 L1566.71,796.49 L1569.01,795.87 L1571.31,795.25 L1573.61,794.64 L1575.90,794.02 L1578.20,793.41 L1580.50,792.79 L1582.80,792.18 L1585.10,791.56 L1587.40,790.95 L1589.69,790.34 L1591.99,789.72 L1594.29,789.11 L1596.59,788.50 L1598.89,787.89 L1601.19,787.28 L1603.49,786.67 L1605.78,786.06 L1608.08,785.46 L1610.38,784.85 L1612.68,784.24 L1614.98,783.63 L1617.28,783.03 L1619.58,782.42 L1621.87,781.82 L1624.17,781.21 L1626.47,780.61 L1628.77,780.01 L1631.07,779.40 L1633.37,778.80 L1635.66,778.20 L1637.96,777.60 L1640.26,777.00 L1642.56,776.40 L1644.86,775.80 L1647.16,775.20 L1649.46,774.60 L1651.75,774.00 L1654.05,773.40 L1656.35,772.81 L1658.65,772.21 L1660.95,771.62 L1663.25,771.02 L1665.55,770.43 L1667.84,769.83 L1670.14,769.24 L1672.44,768.65 L1674.74,768.05 L1677.04,767.46 L1679.34,766.87 L1681.63,766.28 L1683.93,765.69 L1686.23,765.10 L1688.53,764.51 L1690.83,763.92 L1693.13,763.33 L1695.43,762.74 L1697.72,762.16 L1700.02,761.57 L1702.32,760.98 L1704.62,760.40 L1706.92,759.81 L1709.22,759.23 L1711.52,758.64 L1713.81,758.06 L1716.11,757.48 L1718.41,756.89 L1720.71,756.31 L1723.01,755.73 L1725.31,755.15 L1727.60,754.57 L1729.90,753.99 L1732.20,753.41 L1734.50,752.83 L1736.80,752.25 L1739.10,751.67 L1741.40,751.10 L1743.69,750.52 L1745.99,749.94 L1748.29,749.37 L1750.59,748.79 L1752.89,748.22 L1755.19,747.64 L1757.48,747.07 L1759.78,746.50 L1762.08,745.92 L1764.38,745.35 L1766.68,744.78 L1768.98,744.21 L1771.28,743.64 L1773.57,743.07 L1775.87,742.50 L1778.17,741.93 L1780.47,741.36 L1782.77,740.79 L1785.07,740.22 L1787.37,739.66 L1789.66,739.09 L1791.96,738.52 L1794.26,737.96 L1796.56,737.39 L1798.86,736.83 L1801.16,736.26 L1803.45,735.70 L1805.75,735.13 L1808.05,734.57 L1810.35,734.01 L1812.65,733.45 L1814.95,732.89 L1817.25,732.33 L1819.54,731.76 L1821.84,731.20 L1824.14,730.65 L1826.44,730.09 L1828.74,729.53 L1831.04,728.97 L1833.34,728.41 L1835.63,727.86 L1837.93,727.30 L1840.23,726.74 L1842.53,726.19 L1844.83,725.63 L1847.13,725.08 L1849.42,724.52 L1851.72,723.97 L1854.02,723.42 L1856.32,722.86 L1858.62,722.31 L1860.92,721.76 L1863.22,721.21 L1865.51,720.66 L1867.81,720.11 L1870.11,719.56 L1872.41,719.01 L1874.71,718.46 L1877.01,717.91 L1879.31,717.36 L1881.60,716.82 L1883.90,716.27 L1886.20,715.72 L1888.50,715.18 L1890.80,714.63 L1893.10,714.09 L1895.39,713.54 L1897.69,713.00 L1899.99,712.45 L1902.29,711.91 L1904.59,711.37 L1906.89,710.83 L1909.19,710.28 L1911.48,709.74 L1913.78,709.20 L1916.08,708.66 L1918.38,708.12 L1920.68,707.58 L1922.98,707.04 L1925.28,706.51 L1927.57,705.97 L1929.87,705.43 L1932.17,704.89 L1934.47,704.36 L1936.77,703.82 L1939.07,703.28 L1941.36,702.75 L1943.66,702.21 L1945.96,701.68 L1948.26,701.15 L1950.56,700.61 L1952.86,700.08 L1955.16,699.55 L1957.45,699.01 L1959.75,698.48 L1962.05,697.95 L1964.35,697.42 L1966.65,696.89 L1968.95,696.36 L1971.25,695.83 L1973.54,695.30 L1975.84,694.77 L1978.14,694.25 L1980.44,693.72 L1982.74,693.19 L1985.04,692.66 L1987.33,692.14 L1989.63,691.61 L1991.93,691.09 L1994.23,690.56 L1996.53,690.04 L1998.83,689.51 L2001.13,688.99 L2003.42,688.47 L2005.72,687.94 L2008.02,687.42 L2010.32,686.90 L2012.62,686.38 L2014.92,685.86 L2017.22,685.34 L2019.51,684.82 L2021.81,684.30 L2024.11,683.78 L2026.41,683.26 L2028.71,682.74 L2031.01,682.22 L2033.30,681.70 L2035.60,681.19 L2037.90,680.67 L2040.20,680.15" fill="none" stroke="#0072B2" stroke-width="5.4" stroke-dasharray="19.7 7.52" stroke-dashoffset="13.65"/>
</g>
<line x1="1279.80" y1="940.2" x2="1279.80" y2="949.30" stroke="#000" stroke-width="2.2"/>
<text x="1279.60" y="989.60" text-anchor="middle" letter-spacing="-0.5">1600</text>
<line x1="1544.52" y1="940.2" x2="1544.52" y2="949.30" stroke="#000" stroke-width="2.2"/>
<text x="1544.32" y="989.60" text-anchor="middle" letter-spacing="-0.5">1700</text>
<line x1="1809.24" y1="940.2" x2="1809.24" y2="949.30" stroke="#000" stroke-width="2.2"/>
<text x="1809.04" y="989.60" text-anchor="middle" letter-spacing="-0.5">1800</text>
<line x1="1154.50" y1="45.20" x2="1163.1" y2="45.20" stroke="#000" stroke-width="2.2"/>
<text x="1145.50" y="61.30" text-anchor="end">0</text>
<line x1="1154.50" y1="194.37" x2="1163.1" y2="194.37" stroke="#000" stroke-width="2.2"/>
<text x="1145.50" y="210.47" text-anchor="end">-2</text>
<line x1="1154.50" y1="343.53" x2="1163.1" y2="343.53" stroke="#000" stroke-width="2.2"/>
<text x="1145.50" y="359.63" text-anchor="end">-4</text>
<line x1="1154.50" y1="492.70" x2="1163.1" y2="492.70" stroke="#000" stroke-width="2.2"/>
<text x="1145.50" y="508.80" text-anchor="end">-6</text>
<line x1="1154.50" y1="641.87" x2="1163.1" y2="641.87" stroke="#000" stroke-width="2.2"/>
<text x="1145.50" y="657.97" text-anchor="end">-8</text>
<line x1="1154.50" y1="791.03" x2="1163.1" y2="791.03" stroke="#000" stroke-width="2.2"/>
<text x="1145.50" y="807.13" text-anchor="end">-10</text>
<line x1="1154.50" y1="940.20" x2="1163.1" y2="940.20" stroke="#000" stroke-width="2.2"/>
<text x="1145.50" y="956.30" text-anchor="end">-12</text>
<rect x="1163.1" y="45.2" width="837.1" height="895.0" fill="none" stroke="#000" stroke-width="2.2"/>
<text x="1581.25" y="29.80" text-anchor="middle" letter-spacing="-0.22">Lamoreaux</text>
<text x="1581.55" y="1039.10" text-anchor="middle" letter-spacing="-0.31">Temperature [K]</text>
<text transform="translate(1059.20,492.70) rotate(-90)" text-anchor="middle" letter-spacing="-0.27">log Vapor pressure [bar]</text>
<rect x="1183.80" y="65.6" width="585.20" height="434.90" rx="8.3" fill="#fff" fill-opacity="0.8" stroke="#ccc" stroke-opacity="0.8" stroke-width="2.6"/>
<line x1="1200.20" y1="99.1" x2="1282.30" y2="99.1" stroke="#000" stroke-width="5.4" stroke-linecap="square"/>
<line x1="1200.30" y1="159.7" x2="1282.60" y2="159.7" stroke="#000" stroke-width="5.4" stroke-dasharray="19.7 7.52"/>
<circle cx="1241.30" cy="219.9" r="16.8" fill="#000"/>
<circle cx="1241.30" cy="280.1" r="16.8" fill="#E69F00"/>
<circle cx="1241.30" cy="340.4" r="16.8" fill="#56B4E9"/>
<circle cx="1241.30" cy="400.7" r="16.8" fill="#009E73"/>
<circle cx="1241.30" cy="461.0" r="16.8" fill="#0072B2"/>
<text x="1315.00" y="113.90" letter-spacing="-0.4">VapoRock</text>
<text x="1315.00" y="173.80" letter-spacing="-0.41">MAGMA 22</text>
<text x="1315.00" y="234.20" letter-spacing="-0.285">Shornikov et al. 1997</text>
<text x="1315.00" y="294.40" letter-spacing="-0.08">Ca(g)</text>
<text x="1315.00" y="354.80" letter-spacing="-0.15">Mg(g)</text>
<text x="1315.00" y="414.80" letter-spacing="-0.2">SiO(g)</text>
<text x="1315.00" y="474.90" letter-spacing="-0.22">SiO2(g)</text>
</svg></body></html>
